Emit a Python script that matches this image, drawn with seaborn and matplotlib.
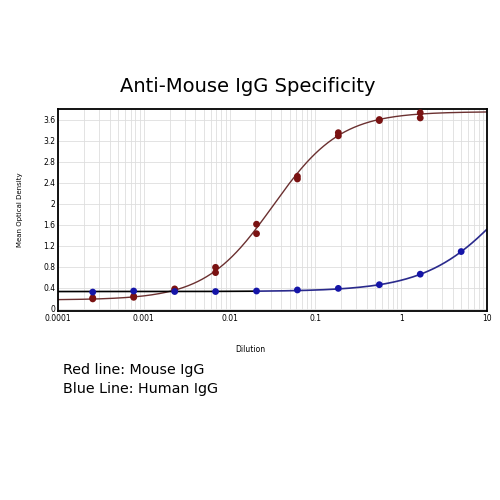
import numpy as np
import pandas as pd
import matplotlib
matplotlib.use("Agg")
import matplotlib.pyplot as plt
from matplotlib.ticker import FixedLocator, FixedFormatter, LogLocator, NullFormatter
import seaborn as sns

# dilution series (3-fold)
dilution = [0.000254, 0.000762, 0.00229, 0.00686, 0.0206, 0.0617, 0.185, 0.556, 1.667, 5.0]

# mouse IgG replicates (red)
mouse_rep1 = [0.19, 0.22, 0.35, 0.69, 1.43, 2.47, 3.29, 3.58, 3.63]
mouse_rep2 = [0.21, 0.24, 0.38, 0.79, 1.61, 2.52, 3.35, 3.60, 3.73]

# human IgG (blue)
human_od = [0.32, 0.34, 0.33, 0.33, 0.34, 0.36, 0.39, 0.46, 0.66, 1.09]

# 4PL fit parameters: bottom, top, ec50, hill
mouse_fit = (0.17, 3.75, 0.032, 1.1)
human_fit = (0.33, 3.75, 20.2, 0.9)

y_ticks = [0, 0.4, 0.8, 1.2, 1.6, 2, 2.4, 2.8, 3.2, 3.6]
x_ticks = [0.0001, 0.001, 0.01, 0.1, 1, 10]
x_tick_labels = ["0.0001", "0.001", "0.01", "0.1", "1", "10"]

red_pt = "#7a1212"
red_line = "#6b3030"
blue_pt = "#1515a8"
blue_line = "#2a2a8c"


def four_pl(x, p):
    b, t, c, h = p
    return b + (t - b) / (1 + (c / x) ** h)


sns.set_style("white")
plt.rcParams["text.color"] = "black"
plt.rcParams["xtick.color"] = "black"
plt.rcParams["ytick.color"] = "black"

fig = plt.figure(figsize=(5, 5), dpi=100)
ax = fig.add_axes([0.116, 0.378, 0.858, 0.404])

xs = np.logspace(-4, 1, 400)
curve_mouse = pd.DataFrame({"x": xs, "y": four_pl(xs, mouse_fit)})
curve_human = pd.DataFrame({"x": xs, "y": four_pl(xs, human_fit)})
low = curve_human["x"] <= 0.0206

sns.lineplot(data=curve_mouse, x="x", y="y", color=red_line, lw=1.0, ax=ax)
sns.lineplot(data=curve_human[low], x="x", y="y", color="black", lw=1.2, ax=ax)
sns.lineplot(data=curve_human[curve_human["x"] > 0.02], x="x", y="y",
             color=blue_line, lw=1.2, ax=ax)

mouse_pts = pd.DataFrame({"x": dilution[:9] * 2, "y": mouse_rep1 + mouse_rep2})
human_pts = pd.DataFrame({"x": dilution, "y": human_od})
sns.scatterplot(data=mouse_pts, x="x", y="y", color=red_pt, s=24, edgecolor="none", ax=ax, zorder=5)
sns.scatterplot(data=human_pts, x="x", y="y", color=blue_pt, s=24, edgecolor="none", ax=ax, zorder=5)

ax.set_xscale("log")
ax.set_xlim(0.0001, 10)
ax.set_ylim(-0.04, 3.8)
ax.xaxis.set_major_locator(FixedLocator(x_ticks))
ax.xaxis.set_major_formatter(FixedFormatter(x_tick_labels))
ax.xaxis.set_minor_locator(LogLocator(base=10, subs=np.arange(2, 10)))
ax.xaxis.set_minor_formatter(NullFormatter())
ax.set_yticks(y_ticks)
ax.set_yticklabels([f"{v:g}" for v in y_ticks])
ax.grid(True, which="both", axis="x", color="#dedede", lw=0.6)
ax.grid(True, which="major", axis="y", color="#dedede", lw=0.6)
ax.set_axisbelow(True)
ax.tick_params(axis="both", which="both", length=0, labelsize=5.5, pad=2)
for s in ax.spines.values():
    s.set_color("black")
    s.set_linewidth(1.3)

ax.set_xlabel("")
ax.set_ylabel("")
fig.text(0.04, 0.58, "Mean Optical Density", rotation=90, fontsize=5, ha="center", va="center")
fig.text(0.50, 0.302, "Dilution", fontsize=5.5, ha="center", va="center")
fig.text(0.496, 0.827, "Anti-Mouse IgG Specificity", fontsize=14, ha="center", va="center")
fig.text(0.126, 0.26, "Red line: Mouse IgG", fontsize=10.3, ha="left", va="center")
fig.text(0.126, 0.221, "Blue Line: Human IgG", fontsize=10.3, ha="left", va="center")

fig.savefig("out.png", dpi=100)
